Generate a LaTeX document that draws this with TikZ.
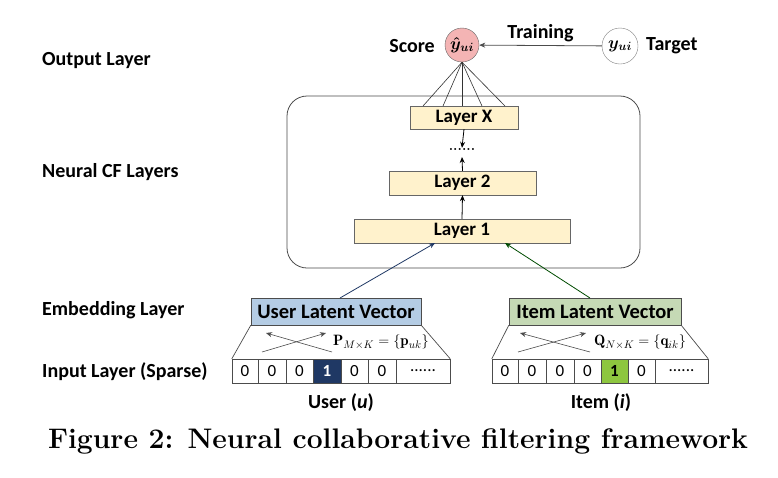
\documentclass[tikz,border=0pt]{standalone}
\usepackage{fontspec}
\newfontfamily\carl{Carlito}
\usetikzlibrary{arrows.meta}
\definecolor{lay}{HTML}{FFF2CC}
\definecolor{ub}{HTML}{B4CCE4}
\definecolor{ig}{HTML}{C5D9B5}
\definecolor{nav}{HTML}{1F3864}
\definecolor{grn}{HTML}{8DC63F}
\definecolor{pk}{HTML}{F4B4B4}
\newcommand\mydots{......}
\begin{document}
\begin{tikzpicture}[x=1pt,y=-1pt,
 lbl/.style={font=\carl\fontsize{20}{20}\selectfont\bfseries,inner sep=0},
 layer/.style={draw=black!60,fill=lay,font=\carl\fontsize{19}{19}\selectfont\bfseries,inner sep=0},
 cell/.style={draw=black!70,minimum height=24pt,inner sep=0,font=\carl\fontsize{17}{17}\selectfont},
 arr/.style={-{Stealth[length=6pt,width=5pt]},line width=0.8pt}]
\useasboundingbox (0,0) rectangle (778,477);
\fill[white] (0,0) rectangle (778,477);
\node[lbl,anchor=west] (t1) at (42,61) {Output Layer};
\node[lbl,anchor=west] (t2) at (42,172) {Neural CF Layers};
\node[lbl,anchor=west] (t3) at (42,310) {Embedding Layer};
\node[lbl,anchor=west] (t4) at (42,372) {Input Layer (Sparse)};
\draw[black!70,line width=0.8pt,rounded corners=20pt] (287,96) rectangle (640,268);
\node[circle,draw=black!60,fill=pk,minimum size=34pt,inner sep=0,font=\fontsize{18}{18}\selectfont\boldmath] (s) at (462,45) {$\hat{y}_{ui}$};
\node[circle,draw=black!50,minimum size=36pt,inner sep=0,font=\fontsize{18}{18}\selectfont\boldmath] (y) at (620,46) {$y_{ui}$};
\node[lbl,anchor=east] (sc) at (435,46) {Score};
\node[lbl,anchor=west] (tg) at (646,46) {Target};
\draw[arr,black!70] (y) -- (s) node[midway,above=3pt,lbl,black] (tr) {Training};
\node[layer,minimum width=108pt,minimum height=23pt] (lx) at (464,117.5) {Layer X};
\node[font=\fontsize{14}{14}\selectfont\bfseries,inner sep=0] (dt) at (462,149) {\mydots};
\node[layer,minimum width=147pt,minimum height=24pt] (l2) at (462.5,183) {Layer 2};
\node[layer,minimum width=216pt,minimum height=24pt] (l1) at (462,231) {Layer 1};
\foreach \x in {423,443,462,482,505}{\draw[black!80,line width=0.6pt] (s.south) -- (\x,106);}
\draw[arr] (lx.south) -- (dt.north);
\draw[arr] (l2.north) -- (462,157);
\draw[arr] (l1.north) -- (l2.south);
\node[draw=black!70,fill=ub,minimum width=170pt,minimum height=27pt,font=\carl\fontsize{20.5}{20.5}\selectfont\bfseries,inner sep=0] (u) at (336,311.5) {User Latent Vector};
\node[draw=black!70,fill=ig,minimum width=172pt,minimum height=27pt,font=\carl\fontsize{20.5}{20.5}\selectfont\bfseries,inner sep=0] (it) at (595,311.5) {Item Latent Vector};
\coordinate (ua) at (340,298); \coordinate (ia) at (590,298);
\coordinate (l1u) at (435,243); \coordinate (l1i) at (505,243);
\draw[arr,nav] (ua) -- (l1u);
\draw[arr,black!50!green!60!black] (ia) -- (l1i);
\foreach \a/\b/\t [count=\i] in {232/258/0,258/286/0,286/313/0,313/341/1,341/368/0,368/396/0,396/450/\mydots}{
  \ifnum\i=4
   \node[cell,fill=nav,text=white,font=\carl\fontsize{17}{17}\selectfont\bfseries,minimum width={\b-\a}] (uc\i) at ({(\a+\b)/2},371) {\t};
  \else
   \node[cell,minimum width={\b-\a}] (uc\i) at ({(\a+\b)/2},371) {\t};
  \fi}
\foreach \a/\b/\t [count=\i] in {492/518/0,518/546/0,546/574/0,574/601/0,601/628/1,628/655/0,655/708/\mydots}{
  \ifnum\i=5
   \node[cell,fill=grn,font=\carl\fontsize{17}{17}\selectfont\bfseries,minimum width={\b-\a}] (ic\i) at ({(\a+\b)/2},371) {\t};
  \else
   \node[cell,minimum width={\b-\a}] (ic\i) at ({(\a+\b)/2},371) {\t};
  \fi}
\draw[black!70,line width=0.7pt] (u.south west) -- (uc1.north west) (u.south east) -- (uc7.north east);
\draw[black!70,line width=0.7pt] (it.south west) -- (ic1.north west) (it.south east) -- (ic7.north east);
\draw[arr,line width=0.6pt,black!70] (262,352) -- (326,333);
\draw[arr,line width=0.6pt,black!70] (332,352) -- (266,333);
\draw[arr,line width=0.6pt,black!70] (518,352) -- (586,333);
\draw[arr,line width=0.6pt,black!70] (590,352) -- (520,333);
\node[font=\fontsize{15}{15}\selectfont,inner sep=0] (pm) at (381,342) {$\mathbf{P}_{M\times K}=\{\mathbf{p}_{uk}\}$};
\node[font=\fontsize{15}{15}\selectfont,inner sep=0] (qm) at (640,342) {$\mathbf{Q}_{N\times K}=\{\mathbf{q}_{ik}\}$};
\node[lbl] (ul) at (341,403) {User (\textit{u})};
\node[lbl] (il) at (601,403) {Item (\textit{i})};
\node[font=\fontsize{28.3}{28.3}\selectfont\bfseries,inner sep=0] (cap) at (398,441) {Figure 2: Neural collaborative filtering framework};
\end{tikzpicture}
\end{document}
